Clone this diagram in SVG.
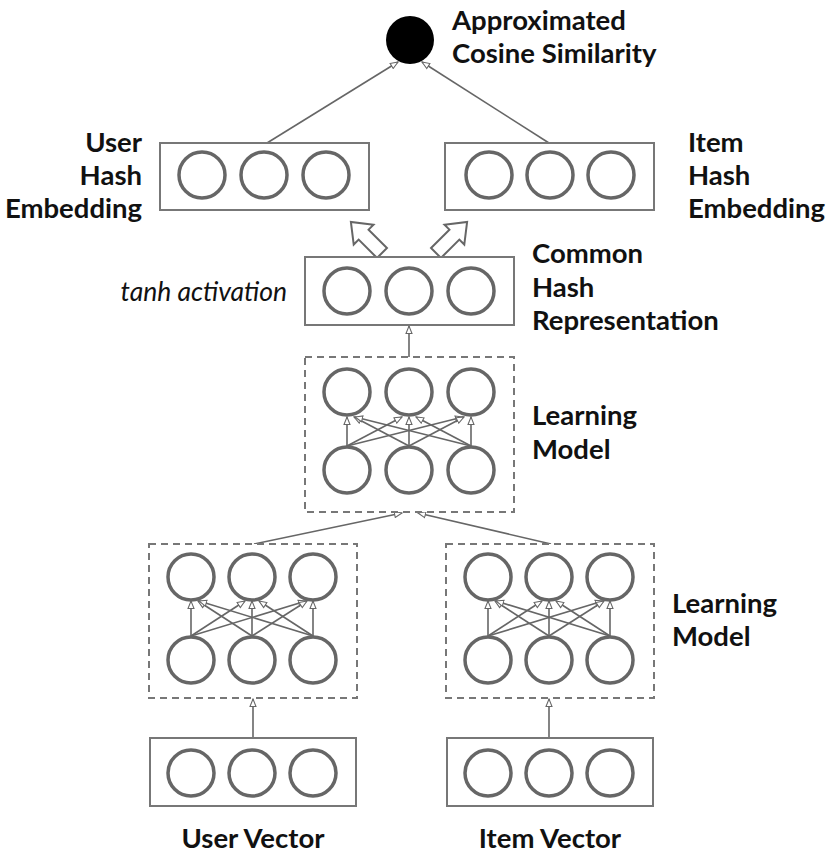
<svg xmlns="http://www.w3.org/2000/svg" width="828" height="856" viewBox="0 0 828 856">
<style>
.box{fill:#fff;stroke:#777;stroke-width:2}
.dash{fill:#fff;stroke:#777;stroke-width:2;stroke-dasharray:7,5}
.n{fill:#fff;stroke:#666;stroke-width:3.5}
.c{stroke:#666;stroke-width:1.6;fill:none;marker-end:url(#ah)}
.t{font-family:Lato,"Liberation Sans",sans-serif;font-weight:bold;font-size:27.5px;fill:#111}
.i{font-family:Lato,"Liberation Sans",sans-serif;font-style:italic;font-size:26.5px;fill:#111}
.blk{fill:#fff;stroke:#666;stroke-width:2}
</style>
<defs>
<marker id="ah" viewBox="0 0 12 10" refX="11" refY="5" markerWidth="9" markerHeight="8" orient="auto" markerUnits="userSpaceOnUse">
<path d="M1,1 L11,5 L1,9 Z" fill="#fff" stroke="#666" stroke-width="1.4"/>
</marker>
<path id="bigarrow" d="M-7,0 L-7,-26 L-14,-26 L0,-44 L14,-26 L7,-26 L7,0 Z"/>
</defs>
<g id="connectors">
<line class="c" x1="267" y1="143" x2="398" y2="62"/>
<line class="c" x1="549" y1="143" x2="422" y2="62"/>
<line class="c" x1="409" y1="357" x2="409" y2="326"/>
<line class="c" x1="254" y1="544" x2="402" y2="513"/>
<line class="c" x1="551" y1="544" x2="418" y2="513"/>
<line class="c" x1="253" y1="738" x2="253" y2="699"/>
<line class="c" x1="549" y1="738" x2="549" y2="699"/>
<use href="#bigarrow" class="blk" transform="translate(382,253) rotate(-45)"/>
<use href="#bigarrow" class="blk" transform="translate(436,253) rotate(45)"/>
</g>
<g id="similarity">
<circle cx="410" cy="40" r="24" fill="#000"/>
<text class="t" x="452" y="30">Approximated</text>
<text class="t" x="452" y="63">Cosine Similarity</text>
</g>
<g id="user-hash">
<rect class="box" x="160" y="143" width="209" height="67"/>
<circle class="n" cx="202" cy="175" r="23"/><circle class="n" cx="264" cy="175" r="23"/><circle class="n" cx="326" cy="175" r="23"/>
<text class="t" x="142" y="152" text-anchor="end">User</text>
<text class="t" x="142" y="185" text-anchor="end">Hash</text>
<text class="t" x="142" y="218" text-anchor="end">Embedding</text>
</g>
<g id="item-hash">
<rect class="box" x="445" y="143" width="209" height="67"/>
<circle class="n" cx="489" cy="175" r="23"/><circle class="n" cx="550" cy="175" r="23"/><circle class="n" cx="611" cy="175" r="23"/>
<text class="t" x="688" y="152">Item</text>
<text class="t" x="688" y="185">Hash</text>
<text class="t" x="688" y="218">Embedding</text>
</g>
<g id="common-hash">
<rect class="box" x="305" y="257" width="209" height="68"/>
<circle class="n" cx="347" cy="291" r="23"/><circle class="n" cx="409" cy="291" r="23"/><circle class="n" cx="471" cy="291" r="23"/>
<text class="i" x="287" y="301" text-anchor="end">tanh activation</text>
<text class="t" x="532" y="263">Common</text>
<text class="t" x="532" y="297">Hash</text>
<text class="t" x="532" y="330">Representation</text>
</g>
<g id="learning-middle">
<rect class="dash" x="305" y="357" width="209" height="155"/>
<line class="c" x1="347" y1="446" x2="347" y2="417"/><line class="c" x1="347" y1="446" x2="402" y2="417"/><line class="c" x1="347" y1="446" x2="463" y2="417"/>
<line class="c" x1="409" y1="446" x2="354" y2="417"/><line class="c" x1="409" y1="446" x2="409" y2="417"/><line class="c" x1="409" y1="446" x2="464" y2="417"/>
<line class="c" x1="471" y1="446" x2="355" y2="417"/><line class="c" x1="471" y1="446" x2="416" y2="417"/><line class="c" x1="471" y1="446" x2="471" y2="417"/>
<circle class="n" cx="347" cy="392" r="23"/><circle class="n" cx="409" cy="392" r="23"/><circle class="n" cx="471" cy="392" r="23"/>
<circle class="n" cx="347" cy="470" r="23"/><circle class="n" cx="409" cy="470" r="23"/><circle class="n" cx="471" cy="470" r="23"/>
<text class="t" x="532" y="425">Learning</text>
<text class="t" x="532" y="459">Model</text>
</g>
<g id="learning-user">
<rect class="dash" x="149" y="544" width="208" height="154"/>
<line class="c" x1="191" y1="636" x2="191" y2="601"/><line class="c" x1="191" y1="636" x2="245" y2="601"/><line class="c" x1="191" y1="636" x2="306" y2="601"/>
<line class="c" x1="252" y1="636" x2="198" y2="601"/><line class="c" x1="252" y1="636" x2="252" y2="601"/><line class="c" x1="252" y1="636" x2="307" y2="601"/>
<line class="c" x1="313" y1="636" x2="199" y2="601"/><line class="c" x1="313" y1="636" x2="259" y2="601"/><line class="c" x1="313" y1="636" x2="313" y2="601"/>
<circle class="n" cx="191" cy="577" r="23"/><circle class="n" cx="252" cy="577" r="23"/><circle class="n" cx="313" cy="577" r="23"/>
<circle class="n" cx="191" cy="660" r="23"/><circle class="n" cx="252" cy="660" r="23"/><circle class="n" cx="313" cy="660" r="23"/>
</g>
<g id="learning-item">
<rect class="dash" x="446" y="544" width="208" height="154"/>
<line class="c" x1="488" y1="636" x2="488" y2="601"/><line class="c" x1="488" y1="636" x2="542" y2="601"/><line class="c" x1="488" y1="636" x2="603" y2="601"/>
<line class="c" x1="549" y1="636" x2="495" y2="601"/><line class="c" x1="549" y1="636" x2="549" y2="601"/><line class="c" x1="549" y1="636" x2="604" y2="601"/>
<line class="c" x1="610" y1="636" x2="496" y2="601"/><line class="c" x1="610" y1="636" x2="556" y2="601"/><line class="c" x1="610" y1="636" x2="610" y2="601"/>
<circle class="n" cx="488" cy="577" r="23"/><circle class="n" cx="549" cy="577" r="23"/><circle class="n" cx="610" cy="577" r="23"/>
<circle class="n" cx="488" cy="660" r="23"/><circle class="n" cx="549" cy="660" r="23"/><circle class="n" cx="610" cy="660" r="23"/>
<text class="t" x="672" y="613">Learning</text>
<text class="t" x="672" y="646">Model</text>
</g>
<g id="user-vector">
<rect class="box" x="150" y="738" width="206" height="68"/>
<circle class="n" cx="191" cy="773" r="23"/><circle class="n" cx="252" cy="773" r="23"/><circle class="n" cx="313" cy="773" r="23"/>
<text class="t" x="253" y="848" text-anchor="middle">User Vector</text>
</g>
<g id="item-vector">
<rect class="box" x="447" y="738" width="206" height="68"/>
<circle class="n" cx="488" cy="773" r="23"/><circle class="n" cx="549" cy="773" r="23"/><circle class="n" cx="610" cy="773" r="23"/>
<text class="t" x="550" y="848" text-anchor="middle">Item Vector</text>
</g>
</svg>
